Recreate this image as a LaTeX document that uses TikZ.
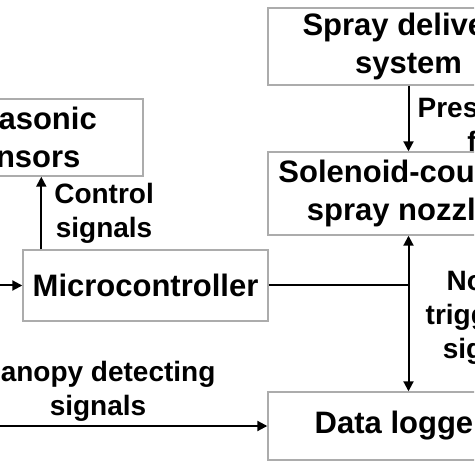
\documentclass[tikz,border=0pt]{standalone}
\usepackage{fontspec}
\setmainfont{Liberation Sans}
\usetikzlibrary{arrows.meta}
\tikzset{
  blockbox/.style={draw=gray!65, line width=0.7pt, align=center, inner sep=0pt,
    font=\fontsize{15.5}{19}\selectfont\bfseries},
  sigtext/.style={align=center, inner sep=0pt, font=\fontsize{14}{17}\selectfont\bfseries}
}
\begin{document}
\begin{tikzpicture}[x=0.5pt, y=-0.5pt, >={Triangle[length=5pt,width=5pt]}, line width=1pt]
  \useasboundingbox (0,0) rectangle (474,474);
  \clip (0,0) rectangle (474,474);
  \node[blockbox, minimum width=122pt, minimum height=38.5pt] (sensors) at (21,137.5) {Ultrasonic\\sensors};
  \node[blockbox, minimum width=140.5pt, minimum height=38.5pt] (spray) at (408.5,46.5) {Spray delivery\\system};
  \node[blockbox, minimum width=140.5pt, minimum height=41.5pt] (nozzle) at (408.5,193.5) {Solenoid-coupled\\spray nozzles};
  \node[blockbox, minimum width=122.5pt, minimum height=35.5pt] (micro) at (145.5,285.5) {Microcontroller};
  \node[blockbox, minimum width=132pt, minimum height=34pt] (logger) at (400,426) {Data logger};
  \coordinate (input) at (-40,285.5);
  \coordinate (canopy) at (-40,426);
  \draw[->] ([xshift=9.5pt]micro.north west) -- ([xshift=9.5pt]micro.north west |- sensors.south)
    node[sigtext, midway, right=6pt] (ctrl) {Control\\signals};
  \draw[->] (spray.south) -- (nozzle.north);
  \draw[<->] (nozzle.south) -- (nozzle.south |- logger.north);
  \draw (micro.east) -- (micro.east -| nozzle.south);
  \draw[->] (input) -- (micro.west);
  \draw[->] (canopy) -- (logger.west);
  \node[sigtext] (fluid) at (497,124) {Pressurized\\fluid};
  \node[sigtext] (trigger) at (491,317) {Nozzle\\triggering\\signals};
  \node[sigtext] (canopylbl) at (98,391.5) {Canopy detecting\\signals};
\end{tikzpicture}
\end{document}
